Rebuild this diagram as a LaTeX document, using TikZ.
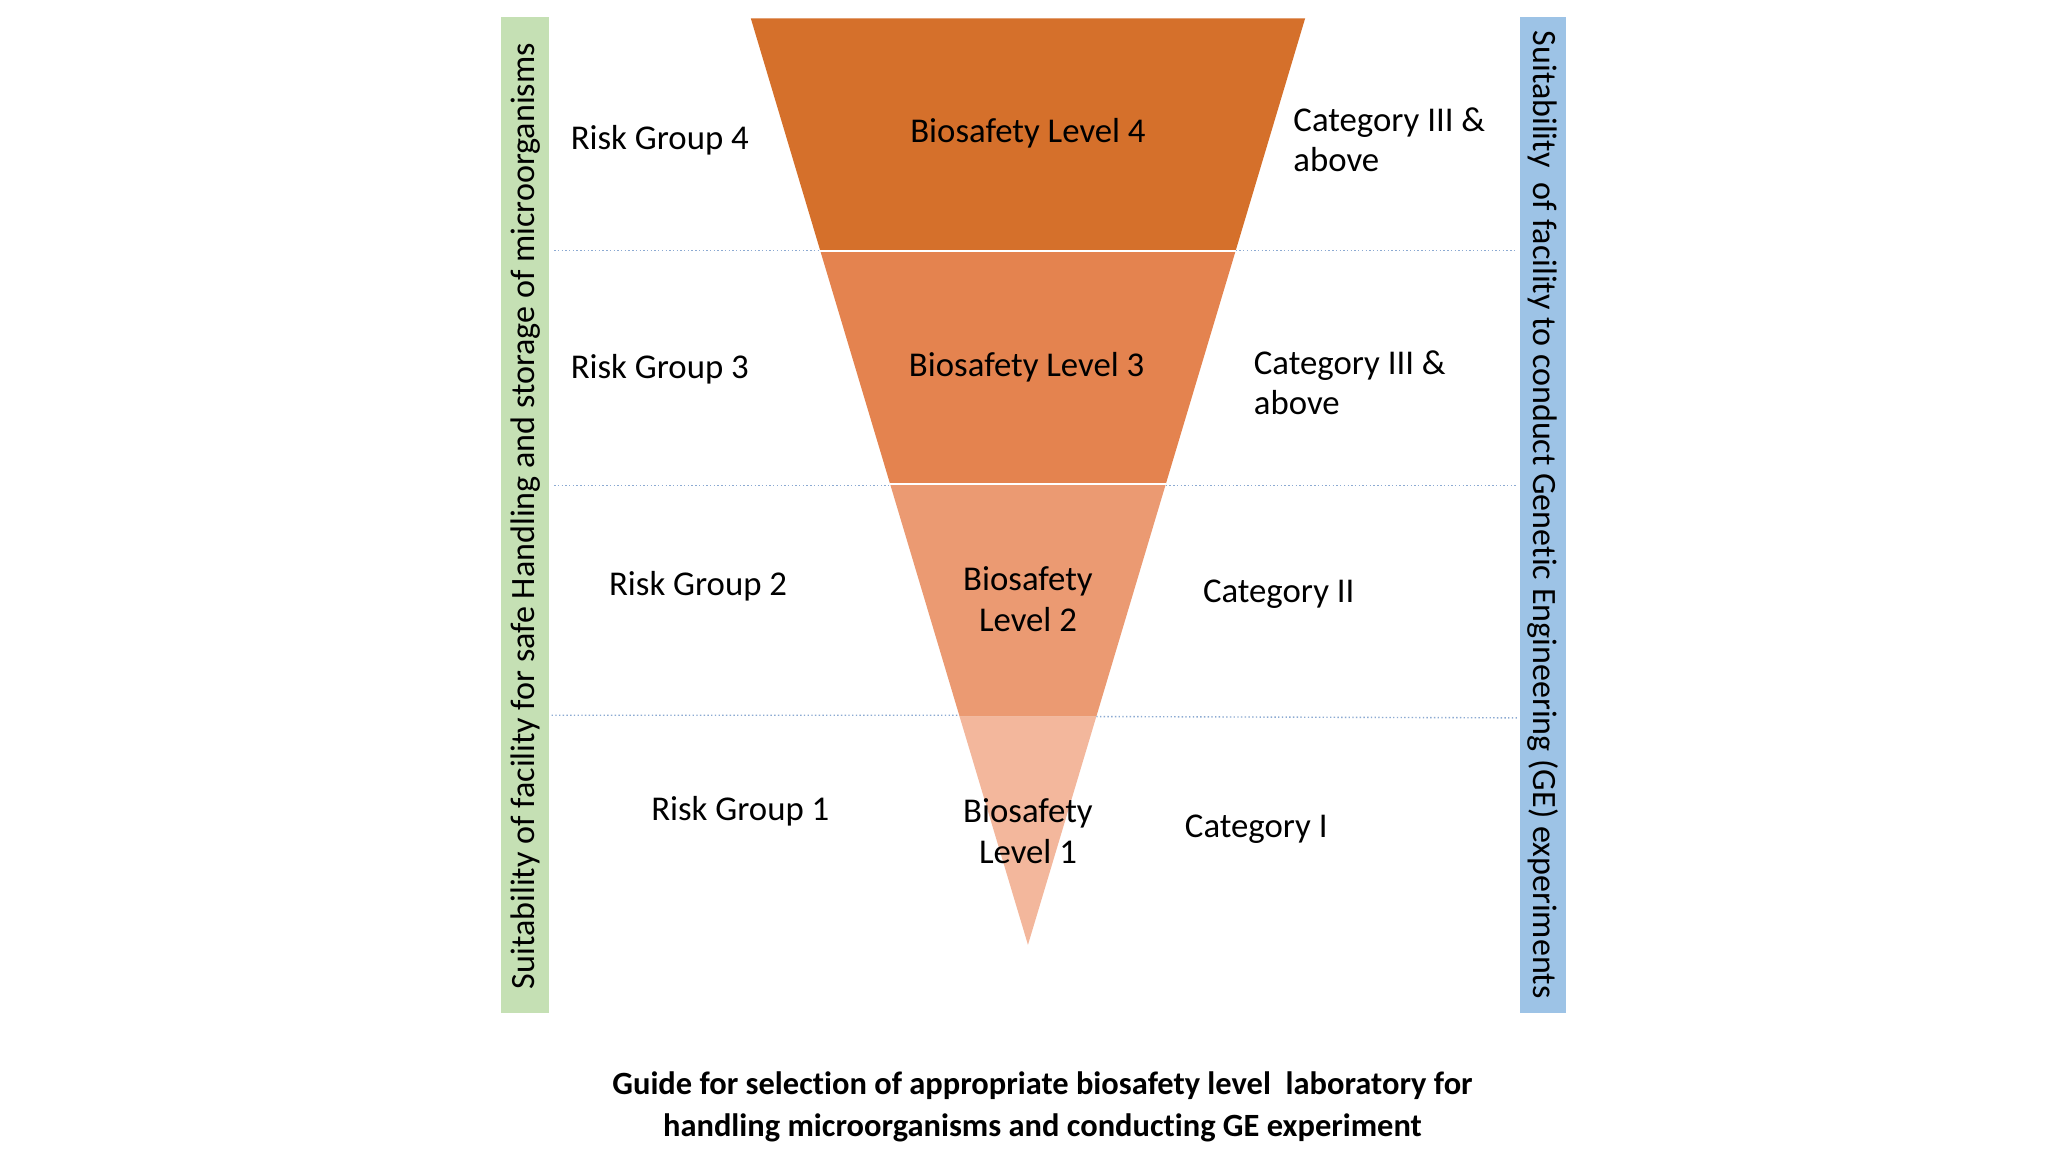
\documentclass[tikz,border=0pt]{standalone}
\usepackage{fontspec}
\setmainfont[Ligatures=NoCommon]{Carlito}
\definecolor{bsl4}{RGB}{213,112,43}
\definecolor{bsl3}{RGB}{228,131,79}
\definecolor{bsl2}{RGB}{235,154,114}
\definecolor{bsl1}{RGB}{243,183,156}
\definecolor{gbar}{RGB}{197,224,180}
\definecolor{bbar}{RGB}{157,195,230}
\definecolor{dline}{RGB}{140,170,210}
\begin{document}
\begin{tikzpicture}[x=0.02cm,y=-0.02cm,
  lbl/.style={font=\fontsize{15}{17.5}\selectfont,align=left},
  clbl/.style={font=\fontsize{15}{17.5}\selectfont,align=center},
  bartxt/.style={font=\fontsize{14.7}{17}\selectfont},
  sep/.style={dline,densely dotted,line width=0.6pt}]
\useasboundingbox (0,0) rectangle (1552,873);
\fill[white] (0,0) rectangle (1552,873);
% bars
\fill[gbar] (380,13) rectangle (416,768);
\fill[bbar] (1152,13) rectangle (1187,768);
\node[bartxt,rotate=90] (gt) at (398,391) {Suitability of facility for safe Handling and storage of microorganisms};
\node[bartxt,rotate=-90] (bt) at (1169,390) {Suitability\ \ of facility to conduct Genetic Engineering (GE) experiments};
% triangle layers
\fill[bsl4] (569,14) -- (989,14) -- (936.4,190) -- (621.6,190) -- cycle;
\fill[bsl3] (621.6,190) -- (936.4,190) -- (883.4,367) -- (674.6,367) -- cycle;
\fill[bsl2] (674.6,367) -- (883.4,367) -- (830.8,543) -- (727.2,543) -- cycle;
\fill[bsl1] (727.2,543) -- (830.8,543) -- (779,716) -- cycle;
\draw[white,line width=0.8pt] (621.6,190) -- (936.4,190) (674.6,367) -- (883.4,367);
% separators
\draw[sep] (420,190) -- (621.6,190) (936.4,190) -- (1150,190);
\draw[sep] (420,368) -- (674.6,368) (883.4,368) -- (1150,368);
\draw[sep] (418,542) -- (727.2,542) (830.8,543) -- (1150,544);
% labels
\node[clbl] (rg4) at (500,106) {Risk Group 4};
\node[clbl] (rg3) at (500,280) {Risk Group 3};
\node[clbl] (rg2) at (529,444) {Risk Group 2};
\node[clbl] (rg1) at (561,615) {Risk Group 1};
\node[clbl] (b4) at (779,101) {Biosafety Level 4};
\node[clbl] (b3) at (778,278) {Biosafety Level 3};
\node[clbl] (b2) at (779,454) {Biosafety\\Level 2};
\node[clbl] (b1) at (779,630) {Biosafety\\Level 1};
\node[lbl,anchor=west] (c4) at (974,106) {Category III \&\\above};
\node[lbl,anchor=west] (c3) at (944,290) {Category III \&\\above};
\node[clbl] (c2) at (969,450) {Category II};
\node[clbl] (c1) at (952,628) {Category I};
\node[font=\bfseries\fontsize{14}{18}\selectfont,align=center] (cap) at (790,839) {Guide for selection of appropriate biosafety level\ \ laboratory for\\handling microorganisms and conducting GE experiment};
\end{tikzpicture}
\end{document}
